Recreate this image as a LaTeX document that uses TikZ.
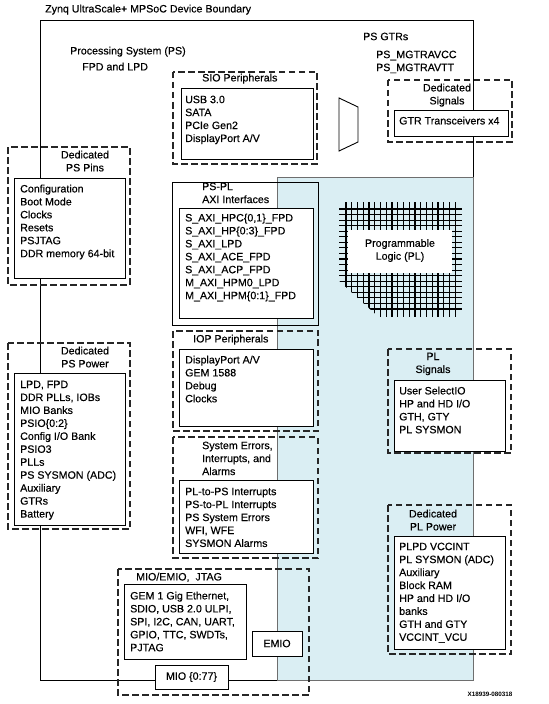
\documentclass[tikz,border=0pt]{standalone}
\usepackage{fontspec}
\setmainfont{Liberation Sans}
\newfontfamily\labelfont[FakeBold=0.3]{Liberation Sans}
\definecolor{plblue}{RGB}{218,238,243}
\definecolor{plgray}{RGB}{110,110,110}
\begin{document}
\begin{tikzpicture}[x=1bp,y=-1bp,
  txt/.style={font=\labelfont\fontsize{10.7}{13}\selectfont, inner sep=0pt, align=left, anchor=north west},
  ctxt/.style={font=\labelfont\fontsize{10.7}{13}\selectfont, inner sep=0pt, align=center, anchor=north},
  mtxt/.style={font=\labelfont\fontsize{10.7}{13}\selectfont, inner sep=0pt, align=center, anchor=center},
  solidbox/.style={draw=black, line width=0.9bp, fill=white},
  openbox/.style={draw=black, line width=0.9bp},
  dashbox/.style={draw=black!85, line width=1.2bp, dash pattern=on 6.5bp off 3.5bp},
  gridline/.style={draw=black, line width=1.2bp},
  boundary/.style={draw=black, line width=0.8bp},
  plregion/.style={draw=plgray, line width=0.9bp, fill=plblue}]
\useasboundingbox (0,0) rectangle (549,704);
\fill[white] (0,0) rectangle (549,704);

% device boundary and PL region
\draw[boundary] (40,20) rectangle (473,680);
\draw[plregion] (277,177) rectangle (473,680);

% headings
\node[txt] (title) at (45,4.5) {Zynq UltraScale+ MPSoC Device Boundary};
\node[txt] (ps) at (70,46.5) {Processing System (PS)};
\node[txt] (fpd) at (82,62.5) {FPD and LPD};
\node[txt] (gtrs) at (363,32.5) {PS GTRs};
\node[txt] (mgt) at (376,50.5) {PS\_MGTRAVCC\\PS\_MGTRAVTT};

% SIO peripherals
\draw[dashbox] (173,72) rectangle (317,164);
\draw[solidbox] (181,88) rectangle (313,159);
\node[txt] (siot) at (202,73.5) {SIO Peripherals};
\node[txt] (sio) at (185,95.5) {USB 3.0\\SATA\\PCIe Gen2\\DisplayPort A/V};

% mux
\draw[solidbox] (339,98) -- (358,107) -- (358,142) -- (339,151) -- cycle;

% dedicated signals
\draw[dashbox] (388,80) rectangle (512,142);
\draw[solidbox] (394,110) rectangle (508,136);
\node[ctxt] (dsig) at (447,83.5) {Dedicated\\Signals};
\node[txt] (gtr) at (399,116.5) {GTR Transceivers x4};

% dedicated PS pins
\draw[dashbox] (8,147) rectangle (130,285);
\draw[solidbox] (14,178) rectangle (125,278);
\node[ctxt] (pinst) at (85,150.5) {Dedicated\\PS Pins};
\node[txt] (pins) at (20,184.5) {Configuration\\Boot Mode\\Clocks\\Resets\\PSJTAG\\DDR memory 64-bit};

% PS-PL AXI
\draw[openbox] (172,182) rectangle (318,325);
\draw[solidbox] (179,208) rectangle (313,318);
\node[txt] (axit) at (202,182.5) {PS-PL\\AXI Interfaces};
\node[txt] (axi) at (185,213.5) {S\_AXI\_HPC\{0,1\}\_FPD\\S\_AXI\_HP\{0:3\}\_FPD\\S\_AXI\_LPD\\S\_AXI\_ACE\_FPD\\S\_AXI\_ACP\_FPD\\M\_AXI\_HPM0\_LPD\\M\_AXI\_HPM\{0:1\}\_FPD};

% programmable logic grid
\begin{scope}
  \clip (335,198) -- (466,198) -- (466,321) -- (383,321) -- (335,277) -- cycle;
  \foreach \i in {0,...,19} \draw[gridline] ({346+5.75*\i},202) -- ({346+5.75*\i},317);
  \foreach \j in {0,...,18} \draw[gridline] (339,{209+5.556*\j}) -- (462,{209+5.556*\j});
\end{scope}
\fill[white] (348,230) rectangle (452,273);
\node[mtxt] (pl) at (400,250.5) {Programmable\\Logic (PL)};

% IOP peripherals
\draw[dashbox] (173,331) rectangle (318,431);
\draw[solidbox] (179,349) rectangle (313,426);
\node[txt] (iopt) at (193,334.5) {IOP Peripherals};
\node[txt] (iop) at (185,355.5) {DisplayPort A/V\\GEM 1588\\Debug\\Clocks};

% system errors
\draw[dashbox] (173,437) rectangle (318,558);
\draw[solidbox] (179,480) rectangle (313,553);
\node[txt] (sert) at (202,441.5) {System Errors,\\Interrupts, and\\Alarms};
\node[txt] (ser) at (185,487.5) {PL-to-PS Interrupts\\PS-to-PL Interrupts\\PS System Errors\\WFI, WFE\\SYSMON Alarms};

% dedicated PS power
\draw[dashbox] (8,343) rectangle (130,529);
\draw[solidbox] (14,373) rectangle (125,525);
\node[ctxt] (pspt) at (85,346.5) {Dedicated\\PS Power};
\node[txt] (psp) at (20,380.5) {LPD, FPD\\DDR PLLs, IOBs\\MIO Banks\\PSIO\{0:2\}\\Config I/O Bank\\PSIO3\\PLLs\\PS SYSMON (ADC)\\Auxiliary\\GTRs\\Battery};

% PL signals
\draw[dashbox] (388,349) rectangle (511,453);
\draw[solidbox] (394,380) rectangle (505,451);
\node[ctxt] (plst) at (433,352.5) {PL\\Signals};
\node[txt] (pls) at (399,386.5) {User SelectIO\\HP and HD I/O\\GTH, GTY\\PL SYSMON};

% dedicated PL power
\draw[dashbox] (388,505) rectangle (511,654);
\draw[solidbox] (394,536) rectangle (505,649);
\node[ctxt] (plpt) at (433,509.5) {Dedicated\\PL Power};
\node[txt] (plp) at (399,542.5) {PLPD VCCINT\\PL SYSMON (ADC)\\Auxiliary\\Block RAM\\HP and HD I/O\\banks\\GTH and GTY\\VCCINT\_VCU};

% MIO / EMIO
\draw[dashbox] (118,569) rectangle (309,695);
\draw[solidbox] (124,584) rectangle (246,659);
\node[txt] (miot) at (136,572.5) {MIO/EMIO,\ \ JTAG};
\node[txt] (mio) at (130,591.5) {GEM 1 Gig Ethernet,\\SDIO, USB 2.0 ULPI,\\SPI, I2C, CAN, UART,\\GPIO, TTC, SWDTs,\\PJTAG};
\draw[solidbox] (252,631) rectangle (302,656);
\node[mtxt] (emio) at (277,643.5) {EMIO};
\draw[solidbox] (155,665) rectangle (228,689);
\node[mtxt] (miop) at (191.5,677) {MIO \{0:77\}};

% figure id
\node[font=\fontsize{6.3}{8}\selectfont\bfseries, inner sep=0pt, anchor=center] (fid) at (490,694) {X18939-080318};
\end{tikzpicture}
\end{document}
